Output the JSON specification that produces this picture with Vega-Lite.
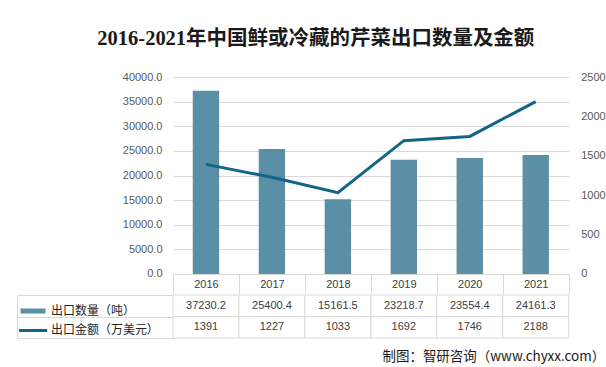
{
  "$schema": "https://vega.github.io/schema/vega-lite/v6.json",
  "background": "white",
  "padding": {"left": 16, "top": 28, "right": 2, "bottom": 4},
  "title": {
    "text": "2016-2021年中国鲜或冷藏的芹菜出口数量及金额",
    "font": "Liberation Serif, Noto Sans CJK SC",
    "fontSize": 20.5,
    "fontWeight": "bold",
    "color": "#1a1a1a",
    "anchor": "middle",
    "offset": 22,
    "dx": 5
  },
  "datasets": {
    "celery": [
      {"year": "2016", "qty": 37230.2, "amt": 1391},
      {"year": "2017", "qty": 25400.4, "amt": 1227},
      {"year": "2018", "qty": 15161.5, "amt": 1033},
      {"year": "2019", "qty": 23218.7, "amt": 1692},
      {"year": "2020", "qty": 23554.4, "amt": 1746},
      {"year": "2021", "qty": 24161.3, "amt": 2188}
    ]
  },
  "spacing": 0,
  "vconcat": [
    {
      "width": 395.7,
      "height": 197,
      "data": {"name": "celery"},
      "encoding": {
        "x": {
          "field": "year",
          "type": "ordinal",
          "scale": {"paddingInner": 0, "paddingOuter": 0},
          "axis": {
            "title": null,
            "labelAngle": 0,
            "domainColor": "#d9d9d9",
            "tickColor": "#d9d9d9",
            "tickBand": "extent",
            "tickSize": 19,
            "labelFont": "Liberation Sans",
            "labelFontSize": 11,
            "labelColor": "#404040",
            "labelBaseline": "middle",
            "labelPadding": -8
          }
        }
      },
      "layer": [
        {
          "mark": {"type": "bar", "width": {"band": 0.4}},
          "encoding": {
            "y": {
              "field": "qty",
              "type": "quantitative",
              "scale": {"domain": [0, 40000], "nice": false},
              "axis": {
                "title": null,
                "values": [0, 5000, 10000, 15000, 20000, 25000, 30000, 35000, 40000],
                "format": ".1f",
                "domain": false,
                "ticks": false,
                "gridColor": "#d9d9d9",
                "labelPadding": 11,
                "labelFont": "Liberation Sans",
                "labelFontSize": 11,
                "labelColor": "#595959"
              }
            },
            "color": {
              "datum": "出口数量（吨）",
              "type": "nominal",
              "scale": {
                "domain": ["出口数量（吨）", "出口金额（万美元）"],
                "range": ["#5a8fa5", "#11658a"]
              },
              "legend": {
                "orient": "none",
                "legendX": -148,
                "legendY": 226,
                "title": null,
                "direction": "vertical",
                "padding": 0,
                "symbolSize": 256,
                "labelOffset": 10,
                "rowPadding": 5.5,
                "labelFont": "Noto Sans CJK SC",
                "labelFontSize": 12,
                "labelColor": "#262626",
                "encode": {
                  "symbols": {
                    "update": {
                      "shape": {"signal": "datum.value === '出口数量（吨）' ? 'M-1.5625,-0.3125H1.5625V0.3125H-1.5625Z' : 'M-1.75,-0.1875H1.75V0.1875H-1.75Z'"},
                      "fill": {"signal": "datum.value === '出口数量（吨）' ? '#5a8fa5' : '#11658a'"},
                      "strokeWidth": {"value": 0},
                      "opacity": {"value": 1}
                    }
                  }
                }
              }
            }
          }
        },
        {
          "mark": {"type": "line", "strokeWidth": 3},
          "encoding": {
            "y": {
              "field": "amt",
              "type": "quantitative",
              "scale": {"domain": [0, 2500], "nice": false},
              "axis": {
                "orient": "right",
                "title": null,
                "values": [0, 500, 1000, 1500, 2000, 2500],
                "format": "d",
                "domain": false,
                "ticks": false,
                "grid": false,
                "labelPadding": 12,
                "labelFont": "Liberation Sans",
                "labelFontSize": 11,
                "labelColor": "#595959"
              }
            },
            "color": {"datum": "出口金额（万美元）", "type": "nominal"}
          }
        }
      ],
      "resolve": {"scale": {"y": "independent"}}
    },
    {
      "width": 395.7,
      "height": 43,
      "data": {"name": "celery"},
      "transform": [{"fold": ["qty", "amt"], "as": ["key", "value"]}],
      "title": {
        "text": "制图：智研咨询（www.chyxx.com）",
        "orient": "bottom",
        "anchor": "end",
        "font": "Noto Sans CJK SC",
        "fontSize": 13.5,
        "fontWeight": "normal",
        "color": "#1a1a1a",
        "offset": 12,
        "dx": 36
      },
      "encoding": {
        "x": {
          "field": "year",
          "type": "ordinal",
          "scale": {"paddingInner": 0, "paddingOuter": 0},
          "axis": null
        },
        "y": {
          "field": "key",
          "type": "nominal",
          "sort": ["qty", "amt"],
          "scale": {"paddingInner": 0, "paddingOuter": 0},
          "axis": {
            "title": null,
            "labels": false,
            "grid": false,
            "offset": 156,
            "domainColor": "#d9d9d9",
            "tickColor": "#d9d9d9",
            "tickBand": "extent",
            "tickSize": -156
          }
        }
      },
      "layer": [
        {"mark": {"type": "rect", "fill": "white", "stroke": "#d9d9d9", "strokeWidth": 1}},
        {
          "transform": [{"filter": "datum.key === 'qty'"}],
          "mark": {"type": "text", "font": "Liberation Sans", "fontSize": 11, "color": "#404040", "baseline": "middle"},
          "encoding": {"text": {"field": "value", "type": "quantitative", "format": ".1f"}}
        },
        {
          "transform": [{"filter": "datum.key === 'amt'"}],
          "mark": {"type": "text", "font": "Liberation Sans", "fontSize": 11, "color": "#404040", "baseline": "middle"},
          "encoding": {"text": {"field": "value", "type": "quantitative", "format": "d"}}
        }
      ]
    }
  ],
  "config": {
    "view": {"stroke": null}
  }
}
